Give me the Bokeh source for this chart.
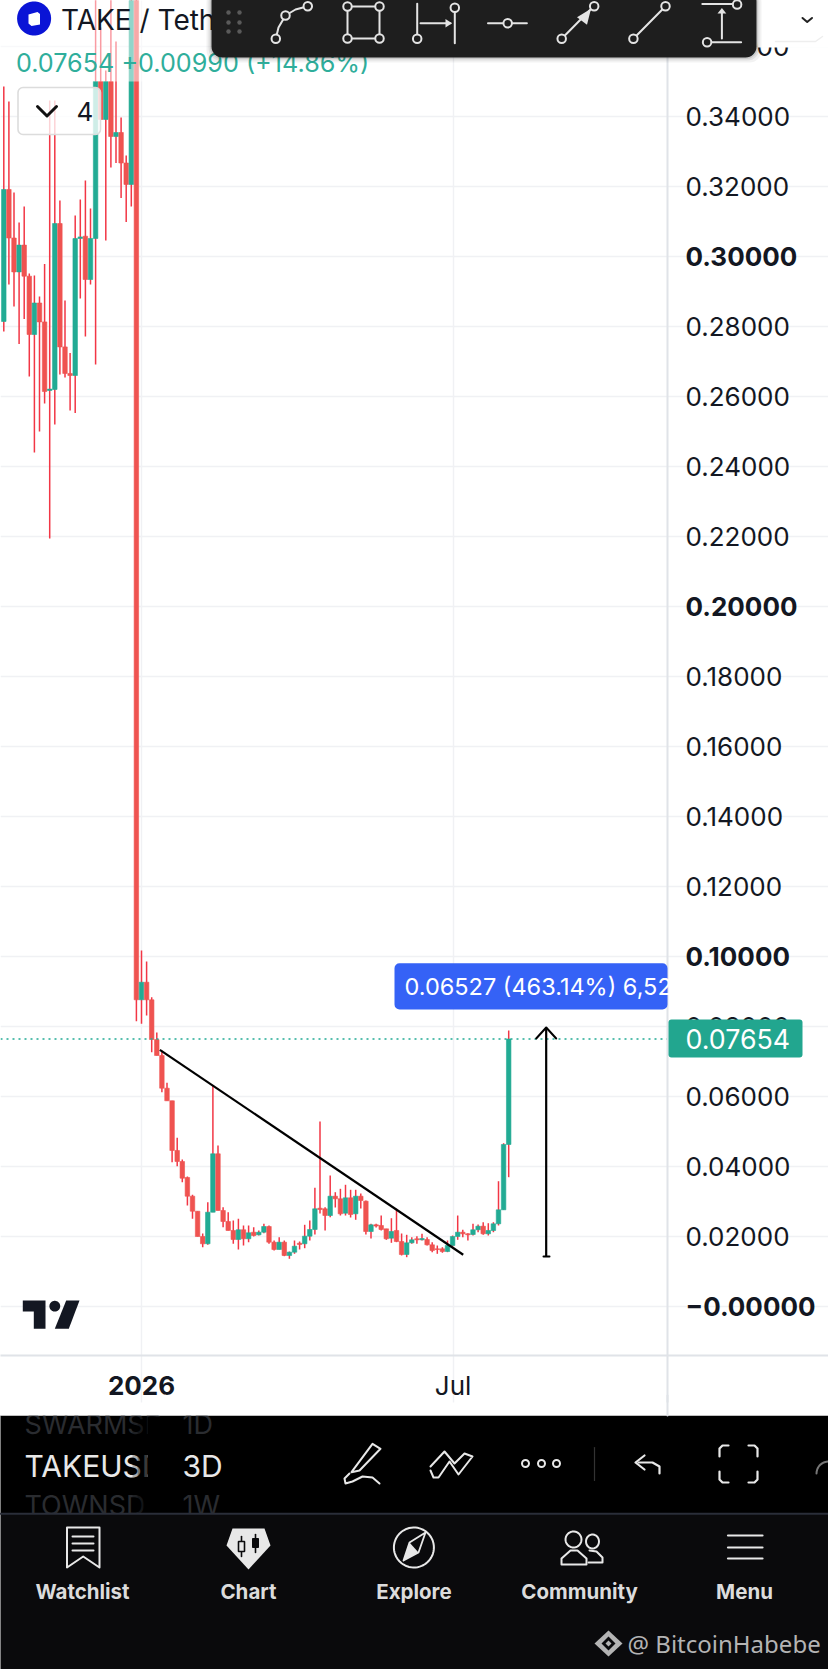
import numpy as np
from bokeh.plotting import figure
from bokeh.models import Range1d, LinearAxis, FixedTicker, Grid, NumeralTickFormatter
from bokeh.core.properties import value
from bokeh.embed import file_html
from bokeh.resources import INLINE

# ---- data (3D candles, TAKE / Tether) ----
opens = [.28154,.31926,.30540,.29571,.30337,.29449,.27783,.28683,.28143,.26183,.26211,.30954,.27429,.26669,.26611,.30526,.30591,.29354,.30526,.35011,
         .33926,.35011,.33440,.33554,.32683,.32069,.41000,.08774,.09277,.08774,.07640,.07183,.06249,.05889,.04469,.04154,.03697,.03163,.02734,.02011,
         .01803,.02706,.04374,.02754,.02440,.02183,.01926,.02203,.01946,.02134,.02060,.02134,.02297,.01849,.01640,.01849,.01469,.01563,.01820,.01803,
         .02020,.02211,.02820,.02803,.02611,.03163,.03089,.02677,.03117,.02660,.03163,.03020,.02154,.02346,.02326,.02231,.01963,.02183,.01869,.01497,
         .01831,.01946,.01917,.01926,.01774,.01660,.01660,.01583,.01754,.02011,.02134,.02089,.02069,.02203,.02306,.02089,.02183,.02374,.02774,.04640]
closes = [.31926,.30540,.29571,.30337,.29449,.27783,.28683,.28143,.26154,.26223,.30954,.27429,.26669,.26611,.30526,.30571,.29354,.30526,.35011,.33926,
          .35011,.33440,.33554,.32683,.32069,.41000,.08774,.09277,.08774,.07640,.07183,.06249,.05889,.04469,.04154,.03677,.03163,.02734,.02011,.01803,
          .02706,.04374,.02754,.02440,.02183,.01926,.02203,.01946,.02117,.02040,.02134,.02297,.01849,.01640,.01849,.01469,.01563,.01734,.01783,.02020,
          .02211,.02803,.02783,.02611,.03163,.03089,.02660,.03117,.02640,.03163,.03040,.02154,.02346,.02311,.02211,.01946,.02154,.01869,.01497,.01831,
          .01917,.01917,.01954,.01774,.01611,.01640,.01583,.01754,.02011,.02134,.02089,.02060,.02203,.02306,.02089,.02183,.02374,.02774,.04640,.07654]
highs = [.34869,.34440,.31840,.30983,.31440,.29526,.29469,.28869,.29794,.34469,.34469,.31611,.28754,.27254,.31183,.31640,.32183,.31383,.37500,.36554,
         .35326,.37500,.36154,.33983,.32897,.42000,.42000,.10183,.09869,.08849,.07840,.07326,.06403,.05889,.04831,.04211,.03726,.03203,.02734,.02097,
         .02991,.06326,.04611,.02849,.02706,.02469,.02517,.02326,.02326,.02277,.02183,.02374,.02326,.01897,.01991,.01897,.01583,.01897,.01869,.02346,
         .02469,.03403,.05297,.02849,.03754,.03277,.03374,.03489,.03346,.03346,.03240,.03040,.02374,.02374,.02611,.02231,.02534,.02803,.02097,.02060,
         .01991,.02020,.02089,.01991,.01849,.01754,.01706,.01897,.02040,.02611,.02203,.02106,.02374,.02354,.02420,.02391,.02420,.03591,.04677,.07897]
lows = [.27869,.29211,.28583,.27509,.28223,.26583,.24411,.25011,.25811,.21954,.25211,.26640,.26554,.25611,.25540,.28811,.27726,.29211,.26926,.33926,
        .30469,.32554,.32683,.31683,.31000,.31440,.08163,.08089,.08326,.07277,.07183,.06134,.05889,.04134,.04020,.03563,.02897,.02517,.02011,.01706,
        .01774,.02706,.02754,.02277,.02183,.01803,.01640,.01754,.01849,.02011,.02040,.02106,.01803,.01611,.01640,.01449,.01374,.01517,.01640,.01677,
        .01897,.02069,.02669,.02183,.02563,.02840,.02611,.02611,.02554,.02489,.02811,.02069,.01954,.02269,.02183,.01917,.01831,.01849,.01469,.01420,
        .01803,.01803,.01897,.01754,.01563,.01517,.01546,.01563,.01723,.01917,.01991,.01897,.02040,.02134,.02060,.02040,.02134,.02326,.02774,.03706]
price_ticks = [.36,.34,.32,.28,.26,.24,.22,.18,.16,.14,.12,.08,.06,.04,.02]
bold_ticks = [.30,.20,.10,0.0]
time_tick_2026 = 27
time_tick_jul = 88.1
last_price = 0.07654
trend_x, trend_y = [30.6, 90.08], [0.07346, 0.01489]
measure_x, measure_y = [106.35, 106.35], [0.0144, 0.0798]

GREEN, RED, WICK = "#22ab94", "#ef5350", "#f23645"
INK = "#131722"
FONT = value("Inter")

# pixel <-> scale anchors of the picture
def ix(px): return (px - 3.3) / 5.1
def pr(py): return (1306.4 - py) / 3500.0

p = figure(width=828, height=1669, output_backend="svg", toolbar_location=None,
           x_range=Range1d(ix(0), ix(828)), y_range=Range1d(pr(1669), pr(0)),
           x_axis_location=None, y_axis_location=None, min_border=0, outline_line_color=None,
           background_fill_color="white", border_fill_color="white")
p.center = []
p.extra_x_ranges["px"] = Range1d(0, 828)
p.extra_y_ranges["px"] = Range1d(1669, 0)
PX = dict(x_range_name="px", y_range_name="px")

def Q(l, r, t, b, color, alpha=1.0, level="overlay", radius=0, line=None, lw=1):
    p.quad(left=[l], right=[r], top=[t], bottom=[b], fill_color=color, fill_alpha=alpha,
           line_color=line, line_width=lw, level=level, border_radius=radius, **PX)
def L(xs, ys, color="#e4e4e4", w=2.0, level="overlay", alpha=1.0):
    p.line(list(xs), list(ys), line_color=color, line_width=w, level=level, line_alpha=alpha,
           line_cap="round", line_join="round", **PX)
def F(xs, ys, color, level="overlay"):
    p.patch(list(xs), list(ys), fill_color=color, line_color=None, level=level, **PX)
def O(xs, ys, fill="#1e1e1e", color="#e4e4e4", size=8.5, level="overlay", w=2.0):
    p.scatter(list(xs), list(ys), marker="circle", size=size, fill_color=fill, line_color=color,
              line_width=w, level=level, **PX)
def T(x, y, s, size, color=INK, align="left", style="normal", level="overlay", font=FONT, alpha=1.0):
    p.text([x], [y], text=[s], text_font=font, text_font_size=f"{size}px", text_color=color,
           text_align=align, text_baseline="middle", text_font_style=style, level=level,
           text_alpha=alpha, **PX)
def arc(cx, cy, rx, ry, a0, a1, n=24):
    t = np.radians(np.linspace(a0, a1, n))
    return cx + rx * np.cos(t), cy + ry * np.sin(t)

# ---- grid ----
GRID = "#f0f1f4"
p.add_layout(Grid(dimension=1, ticker=FixedTicker(ticks=price_ticks + bold_ticks), grid_line_color=GRID, grid_line_width=1.4), "center")
p.add_layout(Grid(dimension=0, ticker=FixedTicker(ticks=[time_tick_2026, time_tick_jul]), grid_line_color=GRID, grid_line_width=1.4), "center")
Q(667, 828, 0, 1415, "white", level="underlay")
Q(0, 828, 1355, 1415, "white", level="underlay")

# ---- candles ----
idx = list(range(len(opens)))
colors = [GREEN if c >= o else RED for o, c in zip(opens, closes)]
p.segment(idx, highs, idx, lows, line_color=WICK, line_width=1.5)
p.vbar(x=idx, top=[max(a, b) for a, b in zip(opens, closes)], bottom=[min(a, b) for a, b in zip(opens, closes)],
       width=0.88, fill_color=colors, line_color=colors, line_width=0.6)

# last-price line
p.line([ix(0), ix(667)], [last_price, last_price], line_color=GREEN, line_width=1.6, line_dash="2 4")

# drawings
p.line(trend_x, trend_y, line_color="black", line_width=2.2)
p.line(measure_x, measure_y, line_color="black", line_width=2.2)
L([543, 549], [1256, 1256], "black", 2.0, level="glyph")
L([535.7, 545.7, 555.7], [1038, 1027, 1038], "black", 2.0, level="glyph")

# panes' separators
L([667, 667], [0, 1415], "#e0e3e8", 2.0, level="glyph")
L([0, 828], [1355, 1355], "#e0e3e8", 2.0, level="glyph")

# ---- axes ----
for ticks, style in ((price_ticks, "normal"), (bold_ticks, "bold")):
    ax = LinearAxis(ticker=FixedTicker(ticks=ticks), fixed_location=ix(667), formatter=NumeralTickFormatter(format="0.00000"),
                    major_tick_line_color=None, minor_tick_line_color=None, axis_line_color=None,
                    major_label_standoff=12, major_label_text_font="Inter", major_label_text_font_size="26px",
                    major_label_text_color=INK, major_label_text_font_style=style)
    if style == "bold":
        ax.major_label_overrides = {0: "\u22120.00000"}
    p.add_layout(ax, "right")
for tick, lab, style, gap in ((time_tick_2026, "2026", "bold", 14), (time_tick_jul, "Jul", "normal", 8)):
    ax = LinearAxis(ticker=FixedTicker(ticks=[tick]), fixed_location=pr(1355), major_label_overrides={tick: lab},
                    major_tick_line_color=None, minor_tick_line_color=None, axis_line_color=None,
                    major_label_standoff=gap, major_label_text_font="Inter", major_label_text_font_size="26px",
                    major_label_text_color=INK, major_label_text_font_style=style)
    p.add_layout(ax, "below")

# ---- header legend ----
Q(0, 375, 0, 81, "white", alpha=0.5, level="annotation")
Q(17.5, 100, 87, 134, "white", alpha=0.78, level="annotation", radius=5, line="#dcdcdc", lw=1.6)
th = np.radians(np.arange(0, 360, 5))
F(33.6 + 17 * np.cos(th), 18 + 17 * np.sin(th), "#0a14d6", level="annotation")
F([28, 37, 39.5, 39.5, 31, 28], [14, 11.5, 13.5, 24, 25.5, 23], "white", level="annotation")
T(60.5, 19, "TAKE / Tether", 28, INK, level="annotation")
T(15.5, 62, "0.07654 +0.00990 (+14.86%)", 25.2, "#2fae9b", level="annotation")
L([37, 46.5, 56], [106, 115.5, 106], "#111111", 3, level="annotation")
T(76, 111, "4", 26, INK, level="annotation")

# logo
F([22.3, 45, 45, 33.3, 33.3, 22.3], [1300, 1300, 1328.3, 1328.3, 1311, 1311], INK, level="annotation")
F(54.3 + 5.4 * np.cos(th), 1305.7 + 5.4 * np.sin(th), INK, level="annotation")
F([65.7, 79, 68.3, 54.3], [1300, 1300, 1328.3, 1328.3], INK, level="annotation")

# measure label + last-price tag
Q(394, 667, 962.7, 1009, "#3562f6", radius=5)
T(404, 986, "0.06527 (463.14%) 6,52", 23.5, "white")
Q(668, 802, 1019, 1057, "#22a68f", radius=3)
T(685, 1038.5, "0.07654", 26.8, "white")

# top right dropdown corner
Q(757, 828, 0, 47, "white")
L([775, 815, 822], [41, 41, 36], "#eeeeee", 1.5)
L([802, 806.7, 811.5], [17.5, 21.5, 17.5], "#222222", 2)

# ---- floating tool bar ----
for grow, a in ((5, .05), (3, .07), (1.5, .1)):
    Q(211 - grow, 756 + grow, -10, 57 + grow, "black", alpha=a, radius=12)
TB = "#1e1e1e"
Q(211, 756, -10, 57, TB, radius=11)
for gx in (228, 239):
    p.scatter([gx] * 3, [12, 22, 31], marker="circle", size=4.5, fill_color="#5a5a5a", line_color=None, level="overlay", **PX)
# curve
L([275.3, 278, 285], [38.3, 27, 15]); L([285, 295, 307.3], [15, 9, 5.7])
O([275.3, 285, 307.3], [38.3, 15, 5.7])
# rectangle
L([347, 379, 379, 347, 347], [6, 6, 38, 38, 6]); O([347, 379, 347, 379], [6, 6, 38, 38])
# date range
L([416.7, 416.7], [3.3, 38]); L([454.3, 454.3], [7, 42.7]); L([420, 450], [22.7, 22.7])
F([445, 451.5, 445], [18.5, 22.7, 27], "#e4e4e4"); O([416.7, 454.3], [38.3, 7.3])
# horizontal
L([487.5, 526.4], [22.7, 22.7]); O([507.2], [22.7])
# arrow
L([561.2, 590], [38.3, 9]); F([590.5, 576.5, 586.5], [8.3, 16.7, 24.3], "#e4e4e4"); O([561.2, 593.7], [38.3, 5.7])
# trend line
L([632.9, 665], [38.3, 5.7]); O([632.9, 665], [38.3, 5.7])
# price range
L([701.8, 736.6], [3.5, 3.5]); L([706.6, 740.6], [41.7, 41.7]); L([721.4, 721.4], [38, 11])
F([717, 721.4, 725.8], [13, 7.5, 13], "#e4e4e4"); O([736.6, 706.6], [4, 41.7])

# ---- bottom dark band ----
DARK = "#000000"; WHITE = "#e8e8e8"; DIM = "#2a2c30"
Q(0, 828, 1415, 1513, DARK)
T(24, 1424, "SWARMSD", 27, DIM); T(182, 1424, "1D", 27, DIM)
T(24, 1465, "TAKEUSD", 30, WHITE); T(182, 1465, "3D", 30, WHITE)
T(24, 1505, "TOWNSD", 27, DIM); T(182, 1505, "1W", 27, DIM)
for l, r, a in ((132, 137, .25), (137, 142, .5), (142, 147, .75), (147, 180, 1.0)):
    Q(l, r, 1416, 1513, DARK, alpha=a)
Q(0, 828, 1402, 1415, "white")
L([667, 667], [1395, 1415], "#e0e3e8", 2.0)
Q(0, 828, 1513, 1669, "#0a0a0c")
L([0, 828], [1513.3, 1513.3], "#2a2e39", 2)
# pencil + scribble
L([351, 372, 380, 359, 351], [1471.7, 1443.3, 1448.3, 1470, 1471.7], WHITE, 2)
L([349, 344, 345, 352, 362, 372, 379], [1473, 1478, 1483, 1481, 1476, 1477, 1483], WHITE, 2)
# zig-zag
L([430, 444, 454, 464, 472, 458, 449, 438, 433, 430], [1466, 1451, 1463, 1453, 1456, 1474, 1461, 1477, 1477, 1470], WHITE, 2)
O([525, 541, 556], [1463, 1463, 1463], fill=DARK, color=WHITE, size=7)
L([594, 594], [1447, 1480], "#333333", 1.2)
# undo
L([659, 659, 652, 638], [1473, 1466, 1462, 1462], WHITE, 2.2); L([644, 635, 644], [1455, 1462, 1469], WHITE, 2.2)
# fullscreen brackets
for sx, sy, xx, yy in ((1, 1, 719, 1445), (-1, 1, 757, 1445), (1, -1, 719, 1482), (-1, -1, 757, 1482)):
    L([xx, xx, xx + sx * 3, xx + sx * 9], [yy + sy * 11, yy + sy * 3, yy, yy], WHITE, 2.2)
xa, ya = arc(828, 1473, 12, 12, 180, 270, 10)
L(xa, ya, "#777777", 2)
# nav: watchlist
L([66.5, 99, 99, 82.7, 66.5, 66.5], [1527, 1527, 1567, 1556, 1567, 1527], WHITE, 2)
for yy in (1536, 1543, 1550):
    L([72, 93], [yy, yy], WHITE, 2)
# nav: chart
F([232, 264, 270, 248, 226], [1528, 1528, 1545, 1569, 1545], WHITE)
L([241, 241], [1536, 1556], "#0a0a0c", 1.6); Q(238, 244, 1541, 1551, WHITE, line="#0a0a0c", lw=1.6)
L([255, 255], [1534, 1552], "#0a0a0c", 1.6); Q(252, 258, 1538, 1547, "#0a0a0c", line="#0a0a0c", lw=1)
# nav: explore
xa, ya = arc(413.4, 1547, 20, 20, 0, 360, 60)
L(xa, ya, WHITE, 2)
L([403, 409, 425, 418, 403], [1560, 1542, 1532, 1552, 1560], WHITE, 1.8)
F([403, 409, 418], [1560, 1542, 1552], WHITE)
# nav: community
xa, ya = arc(573, 1539, 8, 8, 0, 360, 30); L(xa, ya, WHITE, 2)
xa, ya = arc(592, 1541, 6.5, 7, 0, 360, 30); L(xa, ya, WHITE, 2)
L([561, 561, 570, 577, 586, 586, 561], [1564, 1558, 1550, 1550, 1558, 1564, 1564], WHITE, 2)
L([588, 602, 602, 596, 589], [1562, 1562, 1557, 1551, 1550], WHITE, 2)
# nav: menu
for yy in (1535, 1547, 1558):
    L([727.5, 762], [yy, yy], WHITE, 2.2)
for cx, s in ((82, "Watchlist"), (248, "Chart"), (413.4, "Explore"), (579, "Community"), (744, "Menu")):
    T(cx, 1591, s, 20.5, "#dcdcdc", align="center", style="bold")
# watermark
GM = "#b4b4b4"
F([608, 622, 608, 594], [1630, 1643, 1656, 1643], GM)
F([608, 615, 608, 601], [1636, 1643, 1650, 1643], "#0a0a0c")
F([608, 611, 608, 605], [1640, 1643, 1646, 1643], GM)
T(627, 1643, "@ BitcoinHabebe", 24, GM, font=value("Noto Sans"))

open("out.html", "w").write(file_html(p, INLINE))
